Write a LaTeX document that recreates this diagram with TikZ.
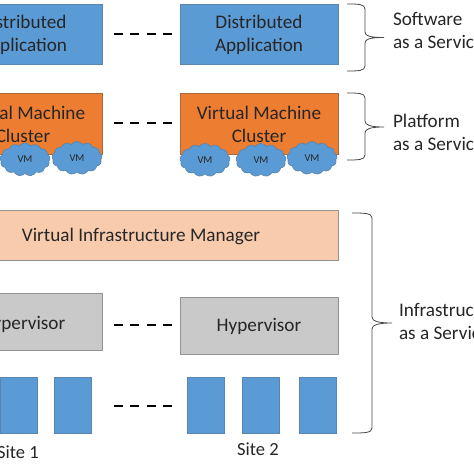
\documentclass[tikz,border=0pt]{standalone}
\usepackage{fontspec}
\setmainfont{Carlito}
\usetikzlibrary{shapes.symbols}
\definecolor{bluefill}{HTML}{5B9BD5}
\definecolor{blueedge}{HTML}{5A86AE}
\definecolor{orangefill}{HTML}{ED7D31}
\definecolor{orangeedge}{HTML}{A5683F}
\definecolor{peachfill}{HTML}{F8CBAD}
\definecolor{greyfill}{HTML}{C9C9C9}
\definecolor{greyedge}{HTML}{939393}
\definecolor{inkc}{HTML}{262626}
\newcommand{\dropby}[2]{\raisebox{-#1}[\height][\depth]{#2}}
\tikzset{
  every node/.style={font=\fontsize{19.2}{23}\selectfont, text=inkc, inner sep=0pt, outer sep=0pt},
  boxbase/.style={draw, line width=0.8pt, minimum width=#1, align=center, anchor=north west},
  appbox/.style={boxbase=158pt, fill=bluefill, draw=blueedge, minimum height=60pt},
  vmbox/.style={boxbase=158pt, fill=orangefill, draw=orangeedge, minimum height=61pt},
  hvbox/.style={boxbase=158pt, fill=greyfill, draw=greyedge, minimum height=57pt},
  vimbox/.style={boxbase=394pt, fill=peachfill, draw=greyedge, minimum height=50pt},
  hostbox/.style={boxbase=37pt, fill=bluefill, draw=blueedge, minimum height=56pt},
  vmcloud/.style={cloud, cloud puffs=13, cloud puff arc=110, aspect=1.6, draw=blueedge, fill=bluefill,
    line width=0.7pt, minimum width=50pt, minimum height=33pt, font=\fontsize{10.5}{13}\selectfont},
  dots/.style={draw=black, line width=2pt, dash pattern=on 9pt off 7.3pt},
  bracket/.style={draw=inkc!85, line width=0.8pt},
  svc/.style={anchor=west, align=left},
  sitelabel/.style={anchor=center, font=\fontsize{18.5}{22}\selectfont}
}
\begin{document}
\begin{tikzpicture}[x=1pt,y=-1pt]
\useasboundingbox (0,0) rectangle (474,474);
\clip (0,0) rectangle (474,474);

% applications
\node[appbox] (appA) at (-56,4) {\dropby{1pt}{\begin{tabular}{@{}c@{}}Distributed\\Application\end{tabular}}};
\node[appbox] (appB) at (180,4) {\dropby{1pt}{\begin{tabular}{@{}c@{}}Distributed\\Application\end{tabular}}};

% VM clusters
\node[vmbox] (vmA) at (-56,93) {\dropby{3pt}{\begin{tabular}{@{}c@{}}Virtual Machine\\Cluster\end{tabular}}};
\node[vmbox] (vmB) at (180,93) {\dropby{3pt}{\begin{tabular}{@{}c@{}}Virtual Machine\\Cluster\end{tabular}}};
\node[vmcloud] (cA1) at (25,159.5) {VM};
\node[vmcloud] (cA2) at (77,158) {VM};
\node[vmcloud] (cB1) at (205,160) {VM};
\node[vmcloud] (cB2) at (261,160) {VM};
\node[vmcloud] (cB3) at (312,158) {VM};

% manager
\node[vimbox] (vim) at (-56,210) {\dropby{1pt}{Virtual Infrastructure Manager}};

% hypervisors
\node[hvbox] (hvA) at (-56,293) {\dropby{2.5pt}{Hypervisor}};
\node[hvbox] (hvB) at (180,297) {\dropby{1pt}{Hypervisor}};

% hosts
\node[hostbox] (hA1) at (0,377) {};
\node[hostbox] (hA2) at (54,377) {};
\node[hostbox] (hB1) at (187,377) {};
\node[hostbox] (hB2) at (242,377) {};
\node[hostbox] (hB3) at (299,377) {};

% dashes
\coordinate (d1a) at (114,34);  \coordinate (d1b) at (173,34);
\coordinate (d2a) at (114,123); \coordinate (d2b) at (173,123);
\coordinate (d3a) at (114,325); \coordinate (d3b) at (173,325);
\coordinate (d4a) at (114,406); \coordinate (d4b) at (173,406);
\draw[dots] (d1a) -- (d1b);
\draw[dots] (d2a) -- (d2b);
\draw[dots] (d3a) -- (d3b);
\draw[dots] (d4a) -- (d4b);

% site labels
\node[sitelabel] (s1) at (18,452) {Site 1};
\node[sitelabel] (s2) at (258,449) {Site 2};

% service labels
\node[svc] (saas) at (393,30.5) {Software\\as a Service};
\node[svc] (paas) at (393,132) {Platform\\as a Service};
\node[svc] (iaas) at (399,321) {Infrastructure\\as a Service};

% braces
\draw[bracket] (347,4) .. controls (358,4) and (365,4) .. (365,9) -- (365,32)
  .. controls (365,36) and (370,37.5) .. (384,37.5)
  .. controls (370,37.5) and (365,39) .. (365,43) -- (365,66)
  .. controls (365,71) and (358,71) .. (347,71);
\draw[bracket] (347,93) .. controls (358,93) and (365,93) .. (365,98) -- (365,121)
  .. controls (365,125) and (370,127) .. (384,127)
  .. controls (370,127) and (365,129) .. (365,133) -- (365,155)
  .. controls (365,160) and (358,160) .. (347,160);
\draw[bracket] (352,213) .. controls (364,213) and (372,213) .. (372,218) -- (372,317)
  .. controls (372,321) and (378,323) .. (392,323)
  .. controls (378,323) and (372,325) .. (372,329) -- (372,428)
  .. controls (372,433) and (364,433) .. (352,433);
\end{tikzpicture}
\end{document}
